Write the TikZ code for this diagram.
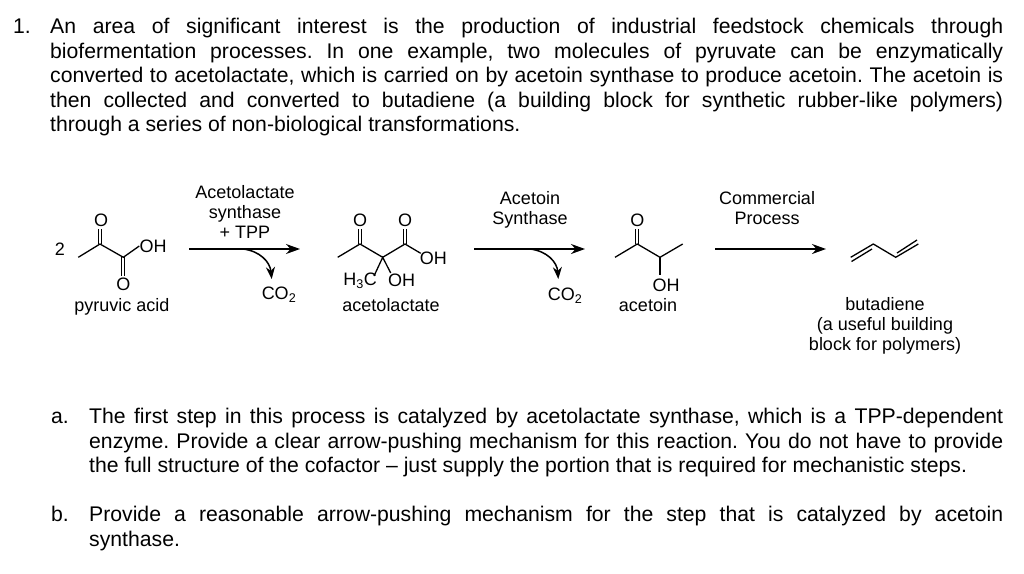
\documentclass[tikz,border=0pt]{standalone}
\usepackage{fontspec}
\setmainfont{Liberation Sans}
\usetikzlibrary{arrows.meta}
\frenchspacing
\tikzset{
    bodytext/.style={anchor=north west, inner sep=0pt, align=justify, font=\fontsize{21.2}{24.5}\selectfont},
    marker/.style={anchor=base west, inner sep=0pt, font=\fontsize{21.2}{24.5}\selectfont},
    label/.style={inner sep=0pt, align=center, font=\fontsize{18}{20.2}\selectfont},
    atom/.style={inner sep=0pt, font=\fontsize{18}{20}\selectfont},
    bond/.style={line width=1.3pt},
    rxn/.style={line width=1.5pt, -{Stealth[length=14pt, width=10pt]}},
    loss/.style={line width=1.5pt, -{Stealth[length=12pt, width=9pt]}}
}

\begin{document}
\begin{tikzpicture}[x=1pt, y=-1pt]
            \useasboundingbox (0, 0) rectangle (1024, 573);
            % Question text
            \node[marker] (one) at (13, 33) {1.};
            \node[bodytext, text width=953pt] (intro) at (50, 18) {An area of significant interest is the production of industrial feedstock chemicals through\linebreak
                biofermentation processes. In one example, two molecules of pyruvate can be enzymatically\linebreak
                converted to acetolactate, which is carried on by acetoin synthase to produce acetoin. The acetoin is\linebreak
                then collected and converted to butadiene (a building block for synthetic rubber-like polymers)\linebreak
                through a series of non-biological transformations.};
            \node[marker] (parta) at (51, 423) {a.};
            \node[bodytext, text width=914pt] (texta) at (89, 408) {The first step in this process is catalyzed by acetolactate synthase, which is a TPP-dependent\linebreak
                enzyme. Provide a clear arrow-pushing mechanism for this reaction. You do not have to provide\linebreak
                the full structure of the cofactor -- just supply the portion that is required for mechanistic steps.};
            \node[marker] (partb) at (51, 521) {b.};
            \node[bodytext, text width=914pt] (textb) at (89, 506) {Provide a reasonable arrow-pushing mechanism for the step that is catalyzed by acetoin\linebreak
                synthase.};
            % Pyruvic acid
            \node[label] (two) at (60, 249) {2};
            \node[atom] (pyrOa) at (101, 220) {O};
            \node[atom] (pyrOH) at (153, 246) {OH};
            \node[atom] (pyrOb) at (123.3, 284) {O};
            \node[label] (pyruvic) at (122, 306.5) {pyruvic acid};
            \draw[bond] (78.3, 257.3) -- (100, 244) -- (123.3, 257.3) -- (pyrOH.west);
            \draw[bond] (98.7, 244) -- (98.7, 228.5) (101.7, 244) -- (101.7, 228.5);
            \draw[bond] (121.8, 257.3) -- (121.8, 275.5) (124.8, 257.3) -- (124.8, 275.5);
            % Acetolactate
            \node[atom] (lacOa) at (360, 220) {O};
            \node[atom] (lacOb) at (405, 220) {O};
            \node[atom] (lacOHa) at (433.3, 258.5) {OH};
            \node[atom] (lacMe) at (360, 280.5) {H\textsubscript{3}C};
            \node[atom] (lacOHb) at (401.7, 280) {OH};
            \node[label] (acetolactate) at (391, 305) {acetolactate};
            \draw[bond] (337.7, 257.3) -- (360, 244) -- (382.7, 257.3) -- (405, 244) -- (420.7, 253.3);
            \draw[bond] (358.5, 244) -- (358.5, 228.5) (361.5, 244) -- (361.5, 228.5);
            \draw[bond] (403.5, 244) -- (403.5, 228.5) (406.5, 244) -- (406.5, 228.5);
            \draw[bond] (374, 276) -- (382.7, 257.3) -- (390.7, 273);
            % Acetoin
            \node[atom] (toinO) at (637.3, 220) {O};
            \node[atom] (toinOH) at (666, 285) {OH};
            \node[label] (acetoin) at (648, 305) {acetoin};
            \draw[bond] (615, 257.3) -- (637.3, 244) -- (660, 257.3) -- (682.7, 244);
            \draw[bond] (635.8, 244) -- (635.8, 228.5) (638.8, 244) -- (638.8, 228.5);
            \draw[bond] (660, 257.3) -- (660, 275);
            % Butadiene
            \node[label] (butadiene) at (885, 326) {butadiene\\(a useful building\\block for polymers)};
            \draw[bond] (850.7, 257.3) -- (873.3, 244) -- (895.7, 257.3) -- (918.3, 244);
            \draw[bond] (851.5, 261.5) -- (872, 249);
            \draw[bond] (897, 253) -- (917, 240);
            % Reaction arrows
            \coordinate (stepAin) at (189, 249);
            \coordinate (stepAout) at (300, 249);
            \coordinate (stepAfork) at (243, 249);
            \coordinate (stepAloss) at (271.7, 279);
            \coordinate (stepBin) at (474, 249);
            \coordinate (stepBout) at (585, 249);
            \coordinate (stepBfork) at (530, 249);
            \coordinate (stepBloss) at (558.3, 279);
            \coordinate (stepCin) at (715, 249);
            \coordinate (stepCout) at (826, 249);
            \node[label] (enzymeA) at (245, 212) {Acetolactate\\synthase\\+ TPP};
            \node[label] (enzymeB) at (530, 210) {Acetoin\\Synthase};
            \node[label] (enzymeC) at (767, 208) {Commercial\\Process};
            \node[label] (coa) at (279, 295) {CO\textsubscript{2}};
            \node[label] (cob) at (565, 296) {CO\textsubscript{2}};
            \draw[rxn] (stepAin) -- (stepAout);
            \draw[rxn] (stepBin) -- (stepBout);
            \draw[rxn] (stepCin) -- (stepCout);
            \draw[loss] (stepAfork) .. controls (260, 251) and (270, 262) .. (stepAloss);
            \draw[loss] (stepBfork) .. controls (547, 251) and (557, 262) .. (stepBloss);
        \end{tikzpicture}
\end{document}
